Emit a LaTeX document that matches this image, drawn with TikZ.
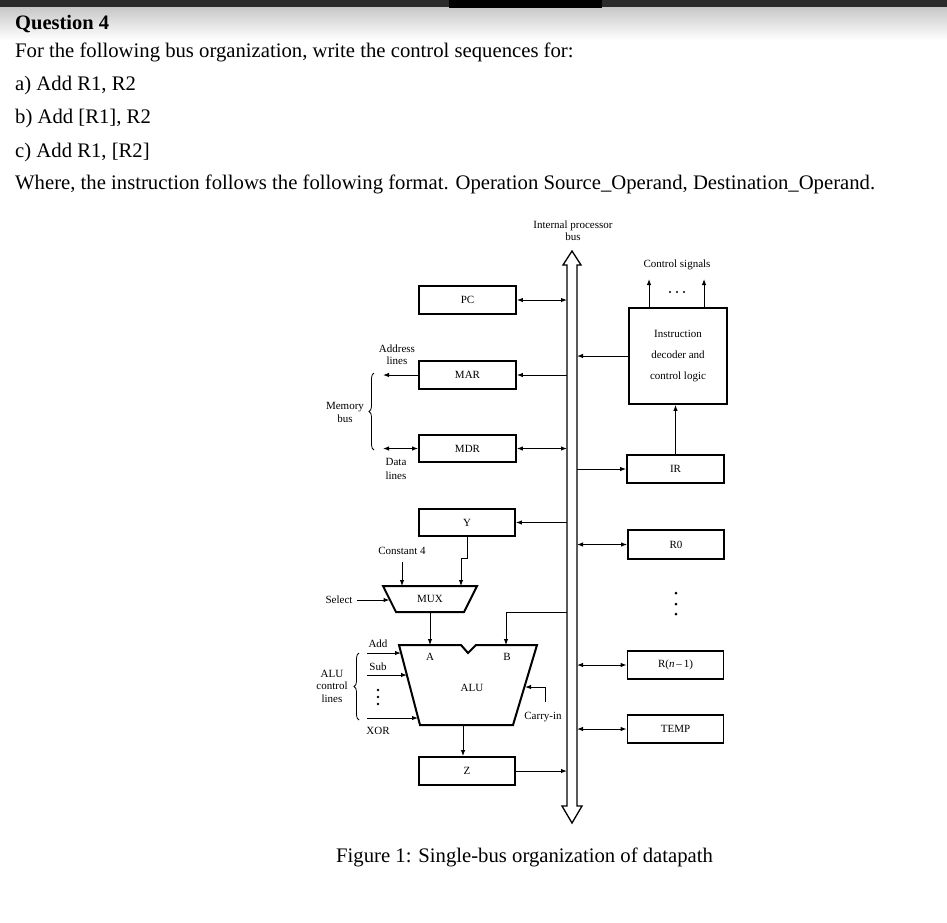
\documentclass[tikz,border=0pt]{standalone}
\usepackage{fontspec}
\setmainfont{Liberation Serif}
\usetikzlibrary{arrows.meta,decorations.pathreplacing}
\begin{document}
\begin{tikzpicture}[x=1pt,y=-1pt,
  reg/.style={draw, line width=1.8pt, inner sep=0pt, font=\fontsize{11}{12}\selectfont},
  lbl/.style={inner sep=0pt, font=\fontsize{11}{12}\selectfont, align=center},
  conn/.style={line width=1pt},
  tip/.style={-{Latex[length=6pt,width=4.5pt]}},
  tips/.style={{Latex[length=6pt,width=4.5pt]}-{Latex[length=6pt,width=4.5pt]}},
  qtext/.style={anchor=base west, inner sep=0pt, font=\fontsize{20.7}{24}\selectfont},
  shp/.style={line width=2pt, line join=miter},
  bracestyle/.style={decorate, decoration={brace, amplitude=5pt}, line width=0.8pt}
]
\useasboundingbox (0,0) rectangle (947,922);
\fill[white] (0,0) rectangle (947,922);
\shade[top color=black!22, bottom color=white] (0,7) rectangle (947,40);
\fill[black!83] (0,0) rectangle (947,7);
\fill[black] (449,0) rectangle (602,8);

% question text
\node[qtext, font=\bfseries\fontsize{20.5}{24}\selectfont] (q) at (15,29) {Question 4};
\node[qtext] (t1) at (15,57) {For the following bus organization, write the control sequences for:};
\node[qtext] (t2) at (15,90) {a) Add R1, R2};
\node[qtext] (t3) at (15,123) {b) Add [R1], R2};
\node[qtext] (t4) at (15,157) {c) Add R1, [R2]};
\node[qtext] (t5) at (15,189) {Where, the instruction follows the following format. Operation Source\_Operand, Destination\_Operand.};
\node[qtext] (cap) at (336,862) {Figure 1: Single-bus organization of datapath};

% bus
\draw[line width=1.3pt, line join=miter] (567,806) -- (567,265) -- (563,265) -- (572,251) -- (581,265) -- (577,265) -- (577,806) -- (582,806) -- (572,823) -- (562,806) -- cycle;
\coordinate (busL) at (567,0);
\coordinate (busR) at (577,0);
\node[lbl] (ibus) at (573,231) {Internal processor\\bus};

% registers
\node[reg, minimum width=97pt, minimum height=28pt] (pc) at (467.5,300) {PC};
\node[reg, minimum width=97pt, minimum height=28pt] (mar) at (467.5,375) {MAR};
\node[reg, minimum width=97pt, minimum height=27pt] (mdr) at (467.5,448.5) {MDR};
\node[reg, minimum width=96pt, minimum height=27pt] (y) at (467,522.5) {Y};
\node[reg, minimum width=96pt, minimum height=28pt] (z) at (467,771) {Z};
\node[reg, minimum width=98pt, minimum height=96pt, align=center, font=\fontsize{11}{21}\selectfont] (ctrl) at (678,356) {Instruction\\decoder and\\control logic};
\node[reg, minimum width=97pt, minimum height=28pt] (ir) at (675.5,469) {IR};
\node[reg, minimum width=96pt, minimum height=29pt] (r0) at (676,544.5) {R0};
\node[reg, minimum width=96pt, minimum height=28pt] (rn) at (675.5,665) {R(\textit{n}\,–\,1)};
\node[reg, minimum width=96pt, minimum height=28pt] (temp) at (675.5,729) {TEMP};

% bus connections
\draw[conn,tips] (pc.east) -- (pc.east -| busL);
\draw[conn,tip] (mar.east -| busL) -- (mar.east);
\draw[conn,tips] (mdr.east) -- (mdr.east -| busL);
\draw[conn,tip] (ctrl.west) -- (ctrl.west -| busR);
\draw[conn,tip] (ir.west -| busR) -- (ir.west);
\draw[conn,tip] (ir.north) -- (ir.north |- ctrl.south);
\draw[conn,tip] (y.east -| busL) -- (y.east);
\draw[conn,tips] (r0.west -| busR) -- (r0.west);
\draw[conn,tips] (rn.west -| busR) -- (rn.west);
\draw[conn,tips] (temp.west -| busR) -- (temp.west);
\draw[conn,tip] (z.east) -- (z.east -| busL);

% control signals
\node[lbl] (csig) at (677,265) {Control signals};
\coordinate (cs1) at (649,279);
\coordinate (cs2) at (704,279);
\draw[conn,tip] (cs1 |- ctrl.north) -- (cs1);
\draw[conn,tip] (cs2 |- ctrl.north) -- (cs2);
\foreach \i in {670,677,684} \fill (\i,292) circle (1.1pt);

% memory bus
\coordinate (addrEnd) at (383,375);
\coordinate (dataEnd) at (383,448.5);
\draw[conn,tip] (mar.west) -- (addrEnd);
\draw[conn,tips] (dataEnd) -- (mdr.west);
\node[lbl] (addr) at (397,355) {Address\\lines};
\node[lbl, font=\fontsize{11}{14}\selectfont] (data) at (396,469) {Data\\lines};
\draw[bracestyle] (374,450) -- (374,373);
\node[lbl, font=\fontsize{11}{13}\selectfont] (membus) at (345,412) {Memory\\bus};

% MUX
\draw[shp] (383,586) -- (477,586) -- (464,612) -- (396,612) -- cycle;
\node[lbl] (mux) at (430,599) {MUX};
\coordinate (muxC) at (402,586);
\coordinate (muxY) at (461,586);
\coordinate (muxSel) at (389.5,600);
\coordinate (muxOut) at (430,612);
\node[lbl] (const) at (402,551) {Constant 4};
\coordinate (constS) at (402,562);
\draw[conn,tip] (constS) -- (muxC);
\draw[conn,tip] (y.south) -- ++(0,22) -| (muxY);
\node[lbl] (sel) at (339,600) {Select};
\coordinate (selS) at (357,600);
\draw[conn,tip] (selS) -- (muxSel);

% ALU
\draw[shp] (399,645) -- (461,645) -- (468,653) -- (476,645) -- (537,645) -- (513,725) -- (420,725) -- cycle;
\node[lbl] (alu) at (472,688) {ALU};
\node[lbl] (la) at (430,657) {A};
\node[lbl] (lb) at (507,657) {B};
\coordinate (aluA) at (430,645);
\coordinate (aluB) at (506,645);
\coordinate (aluOut) at (463,725);
\coordinate (aluCin) at (525,687);
\draw[conn,tip] (muxOut) -- (aluA);
\coordinate (bTap) at (567,612);
\draw[conn,tip] (bTap) -| (aluB);
\draw[conn,tip] (aluOut) -- (aluOut |- z.north);
\coordinate (cinS) at (545,702);
\draw[conn,tip] (cinS) -- (545,687) -- (aluCin);
\node[lbl] (cin) at (543,717) {Carry-in};

% ALU control lines
\coordinate (addS) at (367,653);
\coordinate (subS) at (367,675);
\coordinate (xorS) at (367,718);
\coordinate (addE) at (401,653);
\coordinate (subE) at (407,675);
\coordinate (xorE) at (418,718);
\draw[conn,tip] (addS) -- (addE);
\draw[conn,tip] (subS) -- (subE);
\draw[conn,tip] (xorS) -- (xorE);
\node[lbl] (ladd) at (378,644) {Add};
\node[lbl] (lsub) at (378,667) {Sub};
\node[lbl] (lxor) at (378,731) {XOR};
\foreach \j in {690,697,704} \fill (378,\j) circle (1.3pt);
\draw[bracestyle] (359,720) -- (359,653);
\node[lbl, font=\fontsize{11}{12.5}\selectfont] (aluctl) at (332,686) {ALU\\control\\lines};

% register dots
\foreach \j in {593,604,614} \fill (676,\j) circle (1.5pt);
\end{tikzpicture}
\end{document}
